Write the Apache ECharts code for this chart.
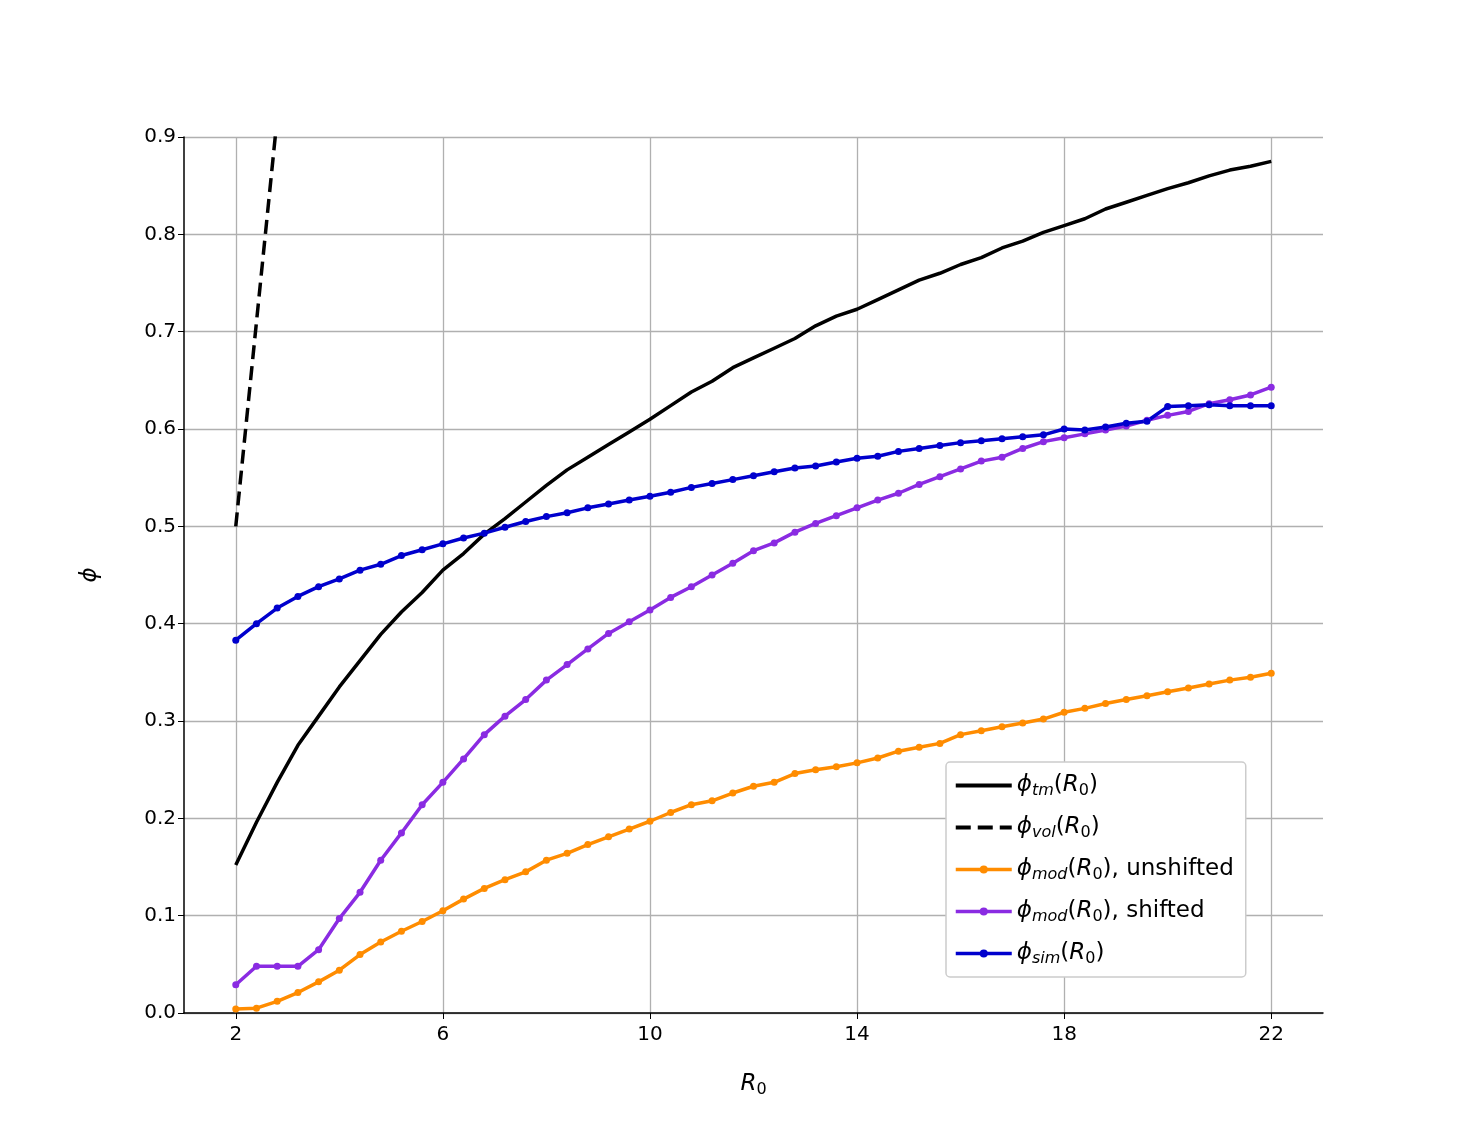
<!DOCTYPE html>
<html lang="en">
<head>
    <meta charset="UTF-8">
    <title>phi vs R0</title>
    <script src="https://cdn.jsdelivr.net/npm/echarts@6/dist/echarts.min.js"></script>
    <style>
        body { margin: 0; background: #fff; }
        #chart { width: 1470px; height: 1138px; }
    </style>
</head>
<body>
<div id="chart"></div>
<script>
    // R0 grid: 2, 2.4, ..., 22
    var r0 = [];
    for (var i = 0; i <= 50; i++) r0.push(+(2 + 0.4 * i).toFixed(1));

    var phiTm = [0.152,0.196,0.237,0.275,0.305,0.335,0.362,0.389,0.412,0.432,0.455,0.472,0.492,0.508,0.525,0.542,0.558,0.571,0.584,0.597,
        0.610,0.624,0.638,0.649,0.663,0.673,0.683,0.693,0.706,0.716,0.723,0.733,0.743,0.753,0.760,0.769,0.776,0.786,0.793,0.802,
        0.809,0.816,0.826,0.833,0.840,0.847,0.853,0.860,0.866,0.870,0.875];
    var volX = [2, 2.4, 2.8];
    var phiVol = [0.5, 0.71, 0.92];
    var phiUnshifted = [0.004,0.005,0.012,0.021,0.032,0.044,0.060,0.073,0.084,0.094,0.105,0.117,0.128,0.137,0.145,0.157,0.164,0.173,0.181,0.189,
        0.197,0.206,0.214,0.218,0.226,0.233,0.237,0.246,0.250,0.253,0.257,0.262,0.269,0.273,0.277,0.286,0.290,0.294,0.298,0.302,0.309,
        0.313,0.318,0.322,0.326,0.330,0.334,0.338,0.342,0.345,0.349];
    var phiShifted = [0.029,0.048,0.048,0.048,0.065,0.097,0.124,0.157,0.185,0.214,0.237,0.261,0.286,0.305,0.322,0.342,0.358,0.374,0.390,0.402,
        0.414,0.427,0.438,0.450,0.462,0.475,0.483,0.494,0.503,0.511,0.519,0.527,0.534,0.543,0.551,0.559,0.567,0.571,0.580,0.587,
        0.591,0.595,0.599,0.603,0.609,0.614,0.618,0.626,0.630,0.635,0.643];
    var phiSim = [0.383,0.400,0.416,0.428,0.438,0.446,0.455,0.461,0.470,0.476,0.482,0.488,0.493,0.499,0.505,0.510,0.514,0.519,0.523,0.527,
        0.531,0.535,0.540,0.544,0.548,0.552,0.556,0.560,0.562,0.566,0.570,0.572,0.577,0.580,0.583,0.586,0.588,0.590,0.592,0.594,0.600,
        0.599,0.602,0.606,0.608,0.623,0.624,0.625,0.624,0.624,0.624];
    var xTicks = [2, 6, 10, 14, 18, 22];

    function pairs(xs, ys) {
        var out = [];
        for (var i = 0; i < xs.length && i < ys.length; i++) out.push([xs[i], ys[i]]);
        return out;
    }

    var font = 'DejaVu Sans';
    var rich = {
        p: { fontFamily: font, fontSize: 23, fontStyle: 'italic', color: '#000' },
        s: { fontFamily: font, fontSize: 16, fontStyle: 'italic', color: '#000', verticalAlign: 'bottom', padding: [11, 0, 0, 0] },
        t: { fontFamily: font, fontSize: 23, color: '#000' },
        z: { fontFamily: font, fontSize: 16, color: '#000', verticalAlign: 'bottom', padding: [11, 0, 0, 0] }
    };
    var labels = {
        tm: '{p|ϕ}{s|tm}{t|(}{p|R}{z|0}{t|)}',
        vol: '{p|ϕ}{s|vol}{t|(}{p|R}{z|0}{t|)}',
        un: '{p|ϕ}{s|mod}{t|(}{p|R}{z|0}{t|), unshifted}',
        sh: '{p|ϕ}{s|mod}{t|(}{p|R}{z|0}{t|), shifted}',
        sim: '{p|ϕ}{s|sim}{t|(}{p|R}{z|0}{t|)}'
    };

    var myChart = echarts.init(document.getElementById('chart'));
    var option = {
        animation: false,
        backgroundColor: '#fff',
        grid: { left: 184, right: 147, top: 137, bottom: 125 },
        legend: {
            left: 946, top: 762, orient: 'vertical',
            backgroundColor: '#fff', borderColor: '#ccc', borderWidth: 1.5, borderRadius: 4,
            padding: [12, 12, 10, 8], itemGap: 17, itemWidth: 56, itemHeight: 10,
            lineStyle: { width: 3.5 },
            data: [
                { name: 'tm', icon: 'path://M0,0h56v4h-56z' },
                { name: 'vol', icon: 'path://M0,0h15v4h-15z M22,0h15v4h-15z M44,0h12v4h-12z' },
                'un', 'sh', 'sim'
            ],
            formatter: function (n) { return labels[n]; },
            textStyle: { rich: rich, fontSize: 23 }
        },
        xAxis: {
            type: 'value', min: 1, max: 23,
            name: '{p|R}{z|0}', nameLocation: 'middle', nameGap: 58, nameTextStyle: { rich: rich },
            axisLine: { onZero: false, lineStyle: { color: '#000', width: 1.5 } },
            axisTick: { customValues: xTicks, length: 6, lineStyle: { color: '#000' } },
            axisLabel: { customValues: xTicks, fontFamily: font, fontSize: 20, color: '#000', margin: 12 },
            splitLine: { show: true, lineStyle: { color: '#b0b0b0', width: 1.3 } }
        },
        yAxis: {
            type: 'value', min: 0, max: 0.9, interval: 0.1,
            name: '{p|ϕ}', nameLocation: 'middle', nameGap: 82, nameRotate: 90, nameTextStyle: { rich: rich },
            axisLine: { show: true, lineStyle: { color: '#000', width: 1.5 } },
            axisTick: { show: true, length: 6, lineStyle: { color: '#000' } },
            axisLabel: { fontFamily: font, fontSize: 20, color: '#000', formatter: function (v) { return v.toFixed(1); } },
            splitLine: { show: true, lineStyle: { color: '#b0b0b0', width: 1.3 } }
        },
        series: [
            { name: 'tm', type: 'line', data: pairs(r0, phiTm), showSymbol: false, symbol: 'none',
              lineStyle: { color: '#000', width: 3.5 }, itemStyle: { color: '#000' } },
            { name: 'vol', type: 'line', data: pairs(volX, phiVol), showSymbol: false, symbol: 'none',
              lineStyle: { color: '#000', width: 3.5, type: [14, 7] }, itemStyle: { color: '#000' } },
            { name: 'un', type: 'line', data: pairs(r0, phiUnshifted), symbol: 'circle', symbolSize: 7,
              lineStyle: { color: '#ff8c00', width: 3.5 }, itemStyle: { color: '#ff8c00' } },
            { name: 'sh', type: 'line', data: pairs(r0, phiShifted), symbol: 'circle', symbolSize: 7,
              lineStyle: { color: '#8a2be2', width: 3.5 }, itemStyle: { color: '#8a2be2' } },
            { name: 'sim', type: 'line', data: pairs(r0, phiSim), symbol: 'circle', symbolSize: 7,
              lineStyle: { color: '#0000cd', width: 3.5 }, itemStyle: { color: '#0000cd' } }
        ]
    };
    myChart.setOption(option);
</script>
</body>
</html>
